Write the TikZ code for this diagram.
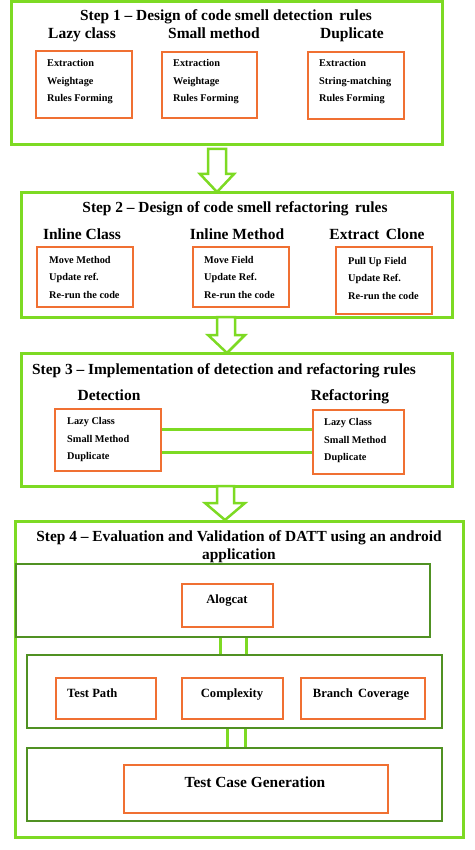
\documentclass[tikz,border=0pt]{standalone}
\usepackage{fontspec}
\setmainfont{Liberation Serif}
\usetikzlibrary{fit}
\definecolor{lgreen}{RGB}{125,218,35}
\definecolor{dgreen}{RGB}{80,145,35}
\definecolor{orng}{RGB}{240,112,50}
\begin{document}
\begin{tikzpicture}[x=1pt,y=-1pt,
  stepbox/.style={draw=lgreen, line width=3pt, inner sep=0pt},
  innerbox/.style={draw=dgreen, line width=2.5pt, inner sep=0pt},
  obox/.style={draw=orng, line width=2.5pt, inner sep=0pt},
  title/.style={font=\bfseries\fontsize{15.4}{17.5}\selectfont, inner sep=0pt, anchor=base},
  subhead/.style={font=\bfseries\fontsize{15.5}{18}\selectfont, inner sep=0pt, anchor=base},
  items/.style={font=\bfseries\fontsize{10.3}{17.5}\selectfont, align=left, anchor=west, inner sep=0pt},
  label/.style={font=\bfseries\fontsize{12.6}{14}\selectfont, inner sep=0pt, anchor=base},
  hollow/.style={draw=lgreen, line width=2.5pt, fill=white, line join=miter},
  link/.style={draw=lgreen, line width=3pt},
]
\useasboundingbox (0,0) rectangle (474,850);

% ---------- Step 1 ----------
\node[stepbox, fit={(11,2)(442,145)}] (s1) {};
\node[title] (t1) at (226,21) {Step 1 – Design of code smell detection\, rules};
\node[subhead] (h11) at (82,39) {Lazy class};
\node[subhead] (h12) at (214,39) {Small method};
\node[subhead] (h13) at (352,39) {Duplicate};
\node[obox, fit={(36,51)(132,118)}] (b11) {};
\node[obox, fit={(162,52)(257,118)}] (b12) {};
\node[obox, fit={(308,52)(404,119)}] (b13) {};
\node[items] (i11) at (47,82) {Extraction\\Weightage\\Rules Forming};
\node[items] (i12) at (173,82) {Extraction\\Weightage\\Rules Forming};
\node[items] (i13) at (319,82) {Extraction\\String-matching\\Rules Forming};

% ---------- Step 2 ----------
\node[stepbox, fit={(21,193)(452,317)}] (s2) {};
\node[title] (t2) at (235,213) {Step 2 – Design of code smell refactoring\, rules};
\node[subhead] (h21) at (82,239) {Inline Class};
\node[subhead] (h22) at (237,239) {Inline Method};
\node[subhead] (h23) at (377,239) {Extract\, Clone};
\node[obox, fit={(37,247)(133,307)}] (b21) {};
\node[obox, fit={(193,247)(289,307)}] (b22) {};
\node[obox, fit={(336,247)(432,314)}] (b23) {};
\node[items] (i21) at (49,277) {Move Method\\Update ref.\\Re-run the code};
\node[items] (i22) at (204,277) {Move Field\\Update Ref.\\Re-run the code};
\node[items] (i23) at (348,278) {Pull Up Field\\Update Ref.\\Re-run the code};

% ---------- Step 3 ----------
\node[stepbox, fit={(21,353)(452,486)}] (s3) {};
\node[title] (t3) at (224,374) {Step 3 – Implementation of detection and refactoring rules};
\node[subhead] (h31) at (109,400) {Detection};
\node[subhead] (h32) at (350,400) {Refactoring};
\node[obox, fit={(55,409)(161,471)}] (b31) {};
\node[obox, fit={(313,410)(404,474)}] (b32) {};
\node[items] (i31) at (67,440) {Lazy Class\\Small Method\\Duplicate};
\node[items] (i32) at (324,441) {Lazy Class\\Small Method\\Duplicate};
\coordinate (l1) at (0,429);
\coordinate (l2) at (0,452);
\draw[link] (b31.east |- l1) -- (b32.west |- l1);
\draw[link] (b31.east |- l2) -- (b32.west |- l2);

% ---------- Step 4 ----------
\node[stepbox, fit={(15,521)(463,837)}] (s4) {};
\node[font=\bfseries\fontsize{15.4}{17.5}\selectfont, inner sep=0pt, align=center] (t4) at (239,546.5)
  {Step 4 – Evaluation and Validation of DATT using an android\\application};
\node[innerbox, fit={(16,564)(430,637)}] (ba) {};
\node[innerbox, fit={(27,655)(442,728)}] (bb) {};
\node[innerbox, fit={(27,748)(442,821)}] (bc) {};
\node[obox, fit={(182,584)(273,627)}] (alog) {};
\node[label] (talog) at (227,603) {Alogcat};
\node[obox, fit={(56,678)(156,719)}] (tp) {};
\node[obox, fit={(182,678)(283,719)}] (cx) {};
\node[obox, fit={(301,678)(425,719)}] (bcov) {};
\node[label, anchor=base west] (ttp) at (67,697) {Test Path};
\node[label] (tcx) at (232,697) {Complexity};
\node[label] (tbc) at (361,697) {Branch\, Coverage};
\node[obox, fit={(124,765)(388,813)}] (tcg) {};
\node[font=\bfseries\fontsize{15.4}{17.5}\selectfont, inner sep=0pt, anchor=base] (ttcg) at (255,787) {Test Case Generation};
\coordinate (v1) at (220,0);
\coordinate (v2) at (246,0);
\coordinate (v3) at (227,0);
\coordinate (v4) at (245,0);
\draw[link] (ba.south -| v1) -- (bb.north -| v1);
\draw[link] (ba.south -| v2) -- (bb.north -| v2);
\draw[link] (bb.south -| v3) -- (bc.north -| v3);
\draw[link] (bb.south -| v4) -- (bc.north -| v4);

% ---------- hollow arrows ----------
\draw[hollow] (208,149) -- (226,149) -- (226,174) -- (234,174) -- (217,192) -- (200,174) -- (208,174) -- cycle;
\draw[hollow] (217,317) -- (235,317) -- (235,335) -- (245,335) -- (227,353) -- (208,335) -- (217,335) -- cycle;
\draw[hollow] (217,486) -- (234,486) -- (234,503) -- (245,503) -- (225,520) -- (205,503) -- (217,503) -- cycle;
\end{tikzpicture}
\end{document}
